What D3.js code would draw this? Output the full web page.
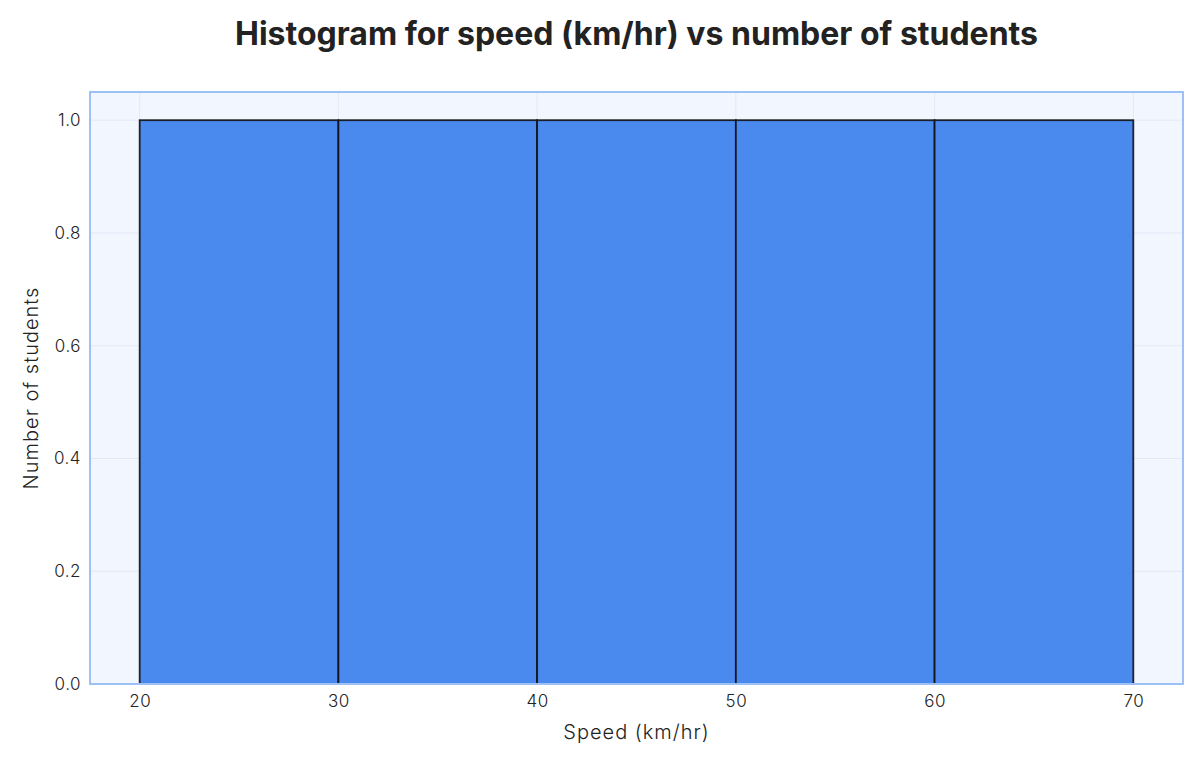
<!DOCTYPE html>
<html>
<head>
<meta charset="utf-8">
<script src="https://cdn.jsdelivr.net/npm/d3@7"></script>
<style>
  body { margin: 0; background: #fff; }
  svg text { font-family: Inter, "Open Sans", sans-serif; fill: #222; }
</style>
</head>
<body>
<div id="chart"></div>
<script>
// bin edges and counts
const binEdges = [20, 30, 40, 50, 60, 70];
const counts = [1, 1, 1, 1, 1];
const xTicks = [20, 30, 40, 50, 60, 70];
const yTicks = [0, 0.2, 0.4, 0.6, 0.8, 1.0];

const width = 1200;
const height = 761;
const margin = { top: 92, right: 17, bottom: 77, left: 90 };

const bins = counts.map((c, i) => ({ x0: binEdges[i], x1: binEdges[i + 1], count: c }));

const svg = d3.select('#chart')
    .append('svg')
    .attr('width', width)
    .attr('height', height);

const lo = binEdges[0], hi = binEdges[binEdges.length - 1];
const pad = (hi - lo) * 0.05;
const x = d3.scaleLinear()
    .domain([lo - pad, hi + pad])
    .range([margin.left, width - margin.right]);

const y = d3.scaleLinear()
    .domain([0, d3.max(counts) * 1.05])
    .range([height - margin.bottom, margin.top]);

// plot background
svg.append('rect')
    .attr('x', margin.left)
    .attr('y', margin.top)
    .attr('width', width - margin.left - margin.right)
    .attr('height', height - margin.top - margin.bottom)
    .attr('fill', '#f2f6fe');

// grid
svg.append('g')
    .selectAll('line')
    .data(xTicks)
    .enter().append('line')
    .attr('x1', d => x(d)).attr('x2', d => x(d))
    .attr('y1', margin.top).attr('y2', height - margin.bottom)
    .attr('stroke', '#e2e9f6')
    .attr('stroke-width', 1);

svg.append('g')
    .selectAll('line')
    .data(yTicks)
    .enter().append('line')
    .attr('x1', margin.left).attr('x2', width - margin.right)
    .attr('y1', d => y(d)).attr('y2', d => y(d))
    .attr('stroke', '#e2e9f6')
    .attr('stroke-width', 1);

// bars
svg.append('g')
    .selectAll('rect')
    .data(bins)
    .enter().append('rect')
    .attr('x', d => x(d.x0))
    .attr('y', d => y(d.count))
    .attr('width', d => x(d.x1) - x(d.x0))
    .attr('height', d => y(0) - y(d.count))
    .attr('fill', '#4a89ee')
    .attr('stroke', '#111')
    .attr('stroke-opacity', 0.9)
    .attr('stroke-width', 1.8);

// spines
svg.append('rect')
    .attr('x', margin.left)
    .attr('y', margin.top)
    .attr('width', width - margin.left - margin.right)
    .attr('height', height - margin.top - margin.bottom)
    .attr('fill', 'none')
    .attr('stroke', '#9dc0f5')
    .attr('stroke-width', 2);

// axes
const xAxis = svg.append('g')
    .attr('transform', `translate(0,${height - margin.bottom})`)
    .call(d3.axisBottom(x).tickValues(xTicks).tickSize(0).tickPadding(11).tickFormat(d3.format('d')));
xAxis.select('.domain').remove();
xAxis.selectAll('text').style('font-size', '17px').style('font-weight', 300).style('letter-spacing', '0.5px');

const yAxis = svg.append('g')
    .attr('transform', `translate(${margin.left},0)`)
    .call(d3.axisLeft(y).tickValues(yTicks).tickSize(0).tickPadding(9).tickFormat(d3.format('.1f')));
yAxis.select('.domain').remove();
yAxis.selectAll('text').style('font-size', '17px').style('font-weight', 300).style('letter-spacing', '0.5px');

// labels
svg.append('text')
    .attr('x', (margin.left + width - margin.right) / 2)
    .attr('y', 739)
    .attr('text-anchor', 'middle')
    .style('font-size', '20px')
    .style('font-weight', 300)
    .style('letter-spacing', '1px')
    .text('Speed (km/hr)');

svg.append('text')
    .attr('transform', `translate(38,${(margin.top + height - margin.bottom) / 2}) rotate(-90)`)
    .attr('text-anchor', 'middle')
    .style('font-size', '20px')
    .style('font-weight', 300)
    .style('letter-spacing', '1px')
    .text('Number of students');

svg.append('text')
    .attr('x', (margin.left + width - margin.right) / 2)
    .attr('y', 45)
    .attr('text-anchor', 'middle')
    .style('font-size', '32px')
    .style('font-weight', 'bold')
    .text('Histogram for speed (km/hr) vs number of students');
</script>
</body>
</html>
